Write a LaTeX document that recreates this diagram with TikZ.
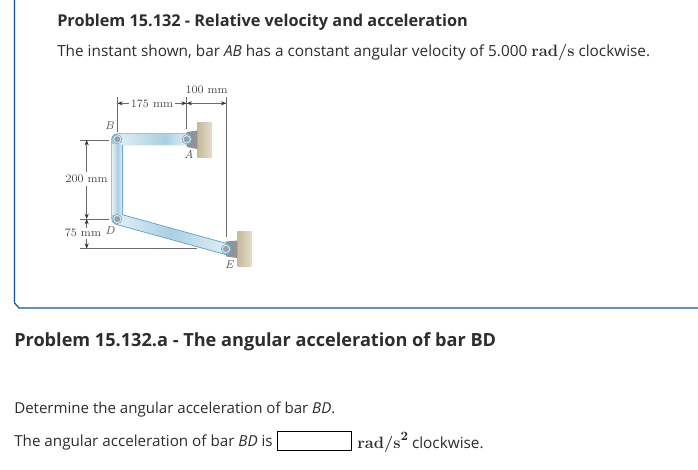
\documentclass[tikz,border=0pt]{standalone}
\usepackage{fontspec}
\setmainfont{Open Sans}
\newfontfamily\lmr{Latin Modern Roman}
\usetikzlibrary{arrows.meta}
\definecolor{txt}{HTML}{2D2D2D}
\definecolor{panel}{HTML}{0F5596}
\definecolor{barfill}{HTML}{A9CFE2}
\definecolor{barlite}{HTML}{E2EEF4}
\definecolor{barline}{HTML}{5FA3C8}
\definecolor{walld}{HTML}{C6B99A}
\definecolor{walll}{HTML}{E4DDCB}
\definecolor{dimc}{HTML}{6A6A6A}
\newcommand{\rads}{{\lmr\bfseries\fontsize{12.3}{14}\selectfont rad/s}}
\tikzset{
 lab/.style={inner sep=0pt,text=txt,anchor=west},
 figlab/.style={inner sep=0pt,font=\lmr\fontsize{8.5}{10}\selectfont,text=txt!85},
 figit/.style={inner sep=0pt,font=\lmr\itshape\fontsize{8.5}{10}\selectfont,text=txt!85},
 dimline/.style={draw=dimc,line width=0.6pt},
 dimarrow/.style={draw=dimc,line width=0.6pt,{Stealth[length=4pt,width=3pt,black!80]}-{Stealth[length=4pt,width=3pt,black!80]}},
 onearrow/.style={draw=dimc,line width=0.6pt,-{Stealth[length=4pt,width=3pt,black!80]}},
}
\begin{document}
\begin{tikzpicture}[x=0.75pt,y=-0.75pt]
\useasboundingbox (0,0) rectangle (698,470);
\fill[white] (0,0) rectangle (698,470);
% panel
\draw[panel,line width=0.9pt] (14.5,0) -- (14.5,303) -- (19,308) -- (698,308);
% texts
\node[lab,font=\fontsize{12.2}{15}\selectfont\bfseries] (t1) at (57,22) {Problem 15.132 - Relative velocity and acceleration};
\node[lab,font=\fontsize{11.5}{14}\selectfont] (t2) at (57,52.5) {The instant shown, bar \textit{AB} has a constant angular velocity of 5.000 \rads{} clockwise.};
\node[lab,font=\fontsize{13.6}{16}\selectfont\bfseries] (t3) at (14,341.5) {Problem 15.132.a - The angular acceleration of bar BD};
\node[lab,font=\fontsize{11.3}{14}\selectfont] (t4) at (14,410) {Determine the angular acceleration of bar \textit{BD}.};
\node[lab,font=\fontsize{11.4}{14}\selectfont] (t5) at (14,442.5) {The angular acceleration of bar \textit{BD} is};
\node[draw=black,line width=0.8pt,fill=white,minimum width=55.5pt,minimum height=14pt,inner sep=0pt,anchor=west] (ans) at (277,441) {};
\node[lab,font=\fontsize{11.5}{14}\selectfont] (t6) at (357,442.5) {\rads{}\raisebox{5.5pt}{\lmr\bfseries\fontsize{9.5}{10}\selectfont 2} clockwise.};
% walls
\shade[left color=walld,right color=walll] (197.3,122.3) rectangle (211.7,157.3);
\shade[left color=walld,right color=walll] (237.3,231) rectangle (251.7,266);
% brackets
\fill[gray!85] (186.7,132) -- (197.3,130.5) -- (197.3,149) -- (186.7,147) -- cycle;
\fill[gray!85] (226,241.5) -- (237.3,240.5) -- (237.3,258) -- (226,256.5) -- cycle;
% named points
\coordinate (A) at (186.7,139.3);
\coordinate (B) at (117.3,139.3);
\coordinate (D) at (117.3,219);
\coordinate (E) at (226,249);
% bars
\draw[line width=8.8pt,barline,line cap=round,line join=round] (A) -- (B) -- (D) -- (E);
\draw[line width=7.4pt,barfill,line cap=round] (D) -- (E);
\draw[line width=7.4pt,barfill,line cap=round] (B) -- (D);
\draw[line width=7.4pt,barfill,line cap=round] (B) -- (A);
\shade[left color=barlite,right color=barfill] (117.3,134.4) rectangle (165,144.2);
\shade[left color=barfill,right color=barlite] (165,134.4) rectangle (186.7,144.2);
\shade[left color=barlite,right color=barfill] (112.4,145) rectangle (117.8,214);
\shade[left color=barfill,right color=barlite] (117.8,145) rectangle (122.2,214);
\begin{scope}[shift={(D)},rotate=-15.43]
\shade[left color=barlite,right color=barfill] (0,-4.9) rectangle (55,4.9);
\shade[left color=barfill,right color=barlite] (55,-4.9) rectangle (112,4.9);
\end{scope}
% pins
\foreach \p in {A,B,D,E}{\fill[barlite] (\p) circle (4.6); \draw[barline,line width=0.4pt] (\p) circle (4.6); \fill[gray!75] (\p) circle (3.1);}
% dimension lines
\coordinate (d1) at (117.3,97); \coordinate (d1b) at (117.3,131.6);
\coordinate (d2) at (186.7,97); \coordinate (d2b) at (186.7,129);
\coordinate (d3) at (226.3,97); \coordinate (d3b) at (226.3,237);
\draw[dimline] (d1) -- (d1b);
\draw[dimline] (d2) -- (d2b);
\draw[dimline] (d3) -- (d3b);
\node[figlab] (l175) at (152,103.3) {175 mm};
\draw[onearrow] (l175.west) ++(-2,0) coordinate (p1) -- (p1 -| d1);
\draw[onearrow] (l175.east) ++(2,0) coordinate (p2) -- (p2 -| d2);
\coordinate (p3) at (186.7,103.3); \coordinate (p4) at (226.3,103.3);
\draw[dimarrow] (p3) -- (p4);
\node[figlab] (l100) at (206.7,90) {100 mm};
\coordinate (h1) at (80,140); \coordinate (h1b) at (109,140);
\coordinate (h2) at (80,219); \coordinate (h2b) at (109,219);
\coordinate (h3) at (80,248.7); \coordinate (h3b) at (196.7,248.7);
\draw[dimline] (h1) -- (h1b);
\draw[dimline] (h2) -- (h2b);
\draw[dimline] (h3) -- (h3b);
\node[figlab,inner ysep=2pt] (l200) at (86.7,179) {200 mm};
\draw[onearrow] (l200.north) -- (86.7,140);
\draw[onearrow] (l200.south) -- (86.7,219);
\node[figlab] (l75) at (83,233) {75 mm};
\coordinate (q1) at (86.7,227.5); \coordinate (q2) at (86.7,238.5);
\draw[onearrow] (q1) -- (86.7,219);
\draw[onearrow] (q2) -- (86.7,248.7);
% letter labels
\node[figit] (lB) at (109.3,125.7) {B};
\node[figit] (lA) at (189,154) {A};
\node[figit] (lD) at (110,230.7) {D};
\node[figit] (lE) at (229.3,265) {E};
\end{tikzpicture}
\end{document}
